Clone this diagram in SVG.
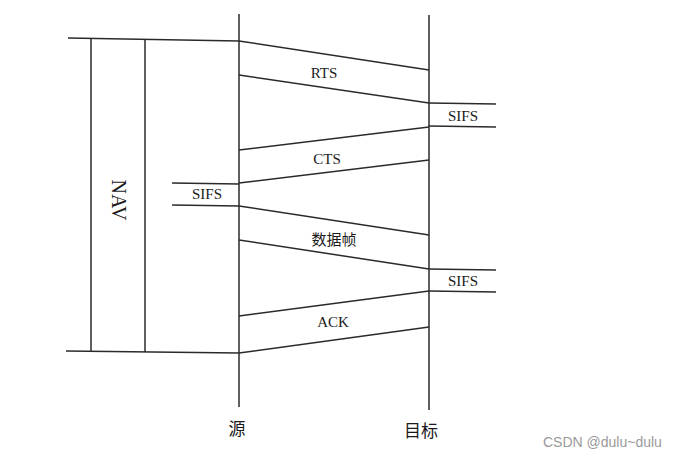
<svg xmlns="http://www.w3.org/2000/svg" width="678" height="458" viewBox="0 0 678 458">
<style>
.ln{stroke:#2a2a2a;stroke-width:1.5;fill:none}
.t{font-family:"Liberation Serif","Times New Roman",serif;font-size:15px;fill:#1a1a1a;text-anchor:middle;dominant-baseline:central}
.c{font-family:"Noto Sans CJK SC","Noto Sans",sans-serif;font-size:15px;fill:#1a1a1a;text-anchor:middle;dominant-baseline:central}
.w{font-family:"Liberation Sans",Arial,sans-serif;font-size:14px;fill:#9a9a9a}
</style>
<rect width="678" height="458" fill="#ffffff"/>
<g id="source">
<line class="ln" x1="239" y1="14" x2="239" y2="407"/>
<text class="c" x="237" y="427" style="font-size:17px">源</text>
</g>
<g id="target">
<line class="ln" x1="429" y1="15" x2="429" y2="410"/>
<text class="c" x="421" y="429" style="font-size:17px">目标</text>
</g>
<g id="nav">
<line class="ln" x1="68" y1="38" x2="239" y2="41"/>
<line class="ln" x1="66" y1="351" x2="239" y2="353"/>
<line class="ln" x1="91" y1="39" x2="91" y2="351"/>
<line class="ln" x1="145" y1="40" x2="145" y2="352"/>
<text class="t" x="119" y="200" style="font-size:20px" transform="rotate(90 119 200)">NAV</text>
</g>
<g id="connectors">
<g id="rts">
<line class="ln" x1="239" y1="41" x2="429" y2="70"/>
<line class="ln" x1="239" y1="75" x2="429" y2="103"/>
<text class="t" x="324" y="73">RTS</text>
</g>
<g id="sifs1">
<line class="ln" x1="429" y1="103" x2="496" y2="104"/>
<line class="ln" x1="429" y1="126" x2="496" y2="127"/>
<text class="t" x="463" y="116">SIFS</text>
</g>
<g id="cts">
<line class="ln" x1="239" y1="150" x2="429" y2="127"/>
<line class="ln" x1="239" y1="183" x2="429" y2="160"/>
<text class="t" x="327" y="159">CTS</text>
</g>
<g id="sifs2">
<line class="ln" x1="172" y1="183" x2="239" y2="184"/>
<line class="ln" x1="172" y1="205" x2="239" y2="206"/>
<text class="t" x="207" y="194">SIFS</text>
</g>
<g id="data">
<line class="ln" x1="239" y1="206" x2="429" y2="235"/>
<line class="ln" x1="239" y1="240" x2="429" y2="269"/>
<text class="c" x="334" y="238">数据帧</text>
</g>
<g id="sifs3">
<line class="ln" x1="429" y1="269" x2="496" y2="270"/>
<line class="ln" x1="429" y1="291" x2="496" y2="292"/>
<text class="t" x="463" y="281">SIFS</text>
</g>
<g id="ack">
<line class="ln" x1="239" y1="316" x2="429" y2="291"/>
<line class="ln" x1="239" y1="353" x2="429" y2="327"/>
<text class="t" x="333" y="322">ACK</text>
</g>
</g>
<text class="w" x="543" y="447">CSDN @dulu~dulu</text>
</svg>
